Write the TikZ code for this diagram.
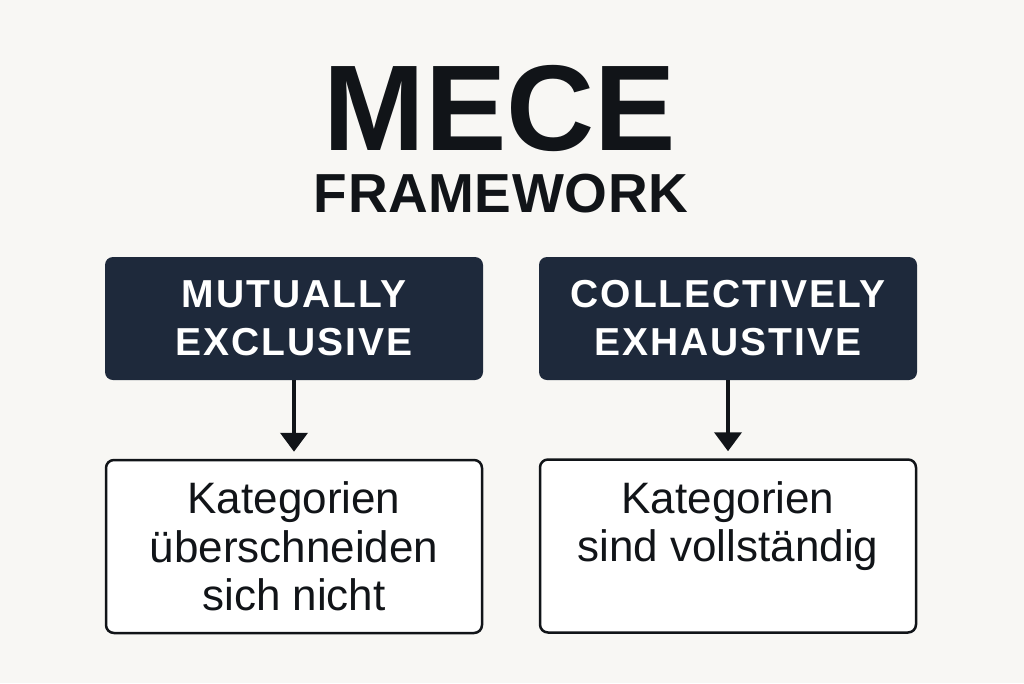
\documentclass[tikz,border=0pt]{standalone}
\usepackage{fontspec}
\setmainfont{Liberation Sans}
\usepackage{xcolor}
\usetikzlibrary{arrows.meta}
\definecolor{paper}{HTML}{F8F7F4}
\definecolor{navy}{HTML}{1E293B}
\definecolor{ink}{HTML}{111418}

\begin{document}
\begin{tikzpicture}[x=1pt,y=-1pt,
  title/.style={anchor=base,text=ink,inner sep=0pt,text depth=0pt},
  headbox/.style={fill=navy,rounded corners=8pt,minimum width=378pt,minimum height=123pt,
    text=white,align=center,inner sep=0pt,
    font=\fontsize{39}{48}\selectfont\bfseries\addfontfeatures{LetterSpace=5}},
  textbox/.style={draw=ink,line width=2.5pt,fill=white,rounded corners=8pt,
    minimum width=376pt,minimum height=173pt,text=ink,align=center,inner sep=0pt,
    font=\fontsize{44}{48.5}\selectfont},
  arr/.style={draw=ink,line width=4pt,-{Triangle[width=27pt,length=19pt]},shorten >=7pt}]
\useasboundingbox[fill=paper] (0,0) rectangle (1024,683);

\node[title,text height=88pt,font=\fontsize{122}{122}\selectfont\bfseries] (mece) at (500,150) {MECE};
\node[title,text height=40pt,font=\fontsize{55}{55}\selectfont\bfseries\addfontfeatures{LetterSpace=1}] (frame) at (501,212) {FRAMEWORK};

\node[headbox] (me) at (294,318.5) {MUTUALLY\\EXCLUSIVE};
\node[headbox] (ce) at (728,318.5) {COLLECTIVELY\\EXHAUSTIVE};

\node[textbox] (mebox) at (294,546.5) {Kategorien\\überschneiden\\sich nicht};
\node[textbox] (cebox) at (728,546) {Kategorien\\sind vollständig\\\mbox{}};

\foreach \a/\b in {me/mebox,ce/cebox}{
  \draw[arr] (\a.south) -- (\b.north);
}
\end{tikzpicture}
\end{document}
